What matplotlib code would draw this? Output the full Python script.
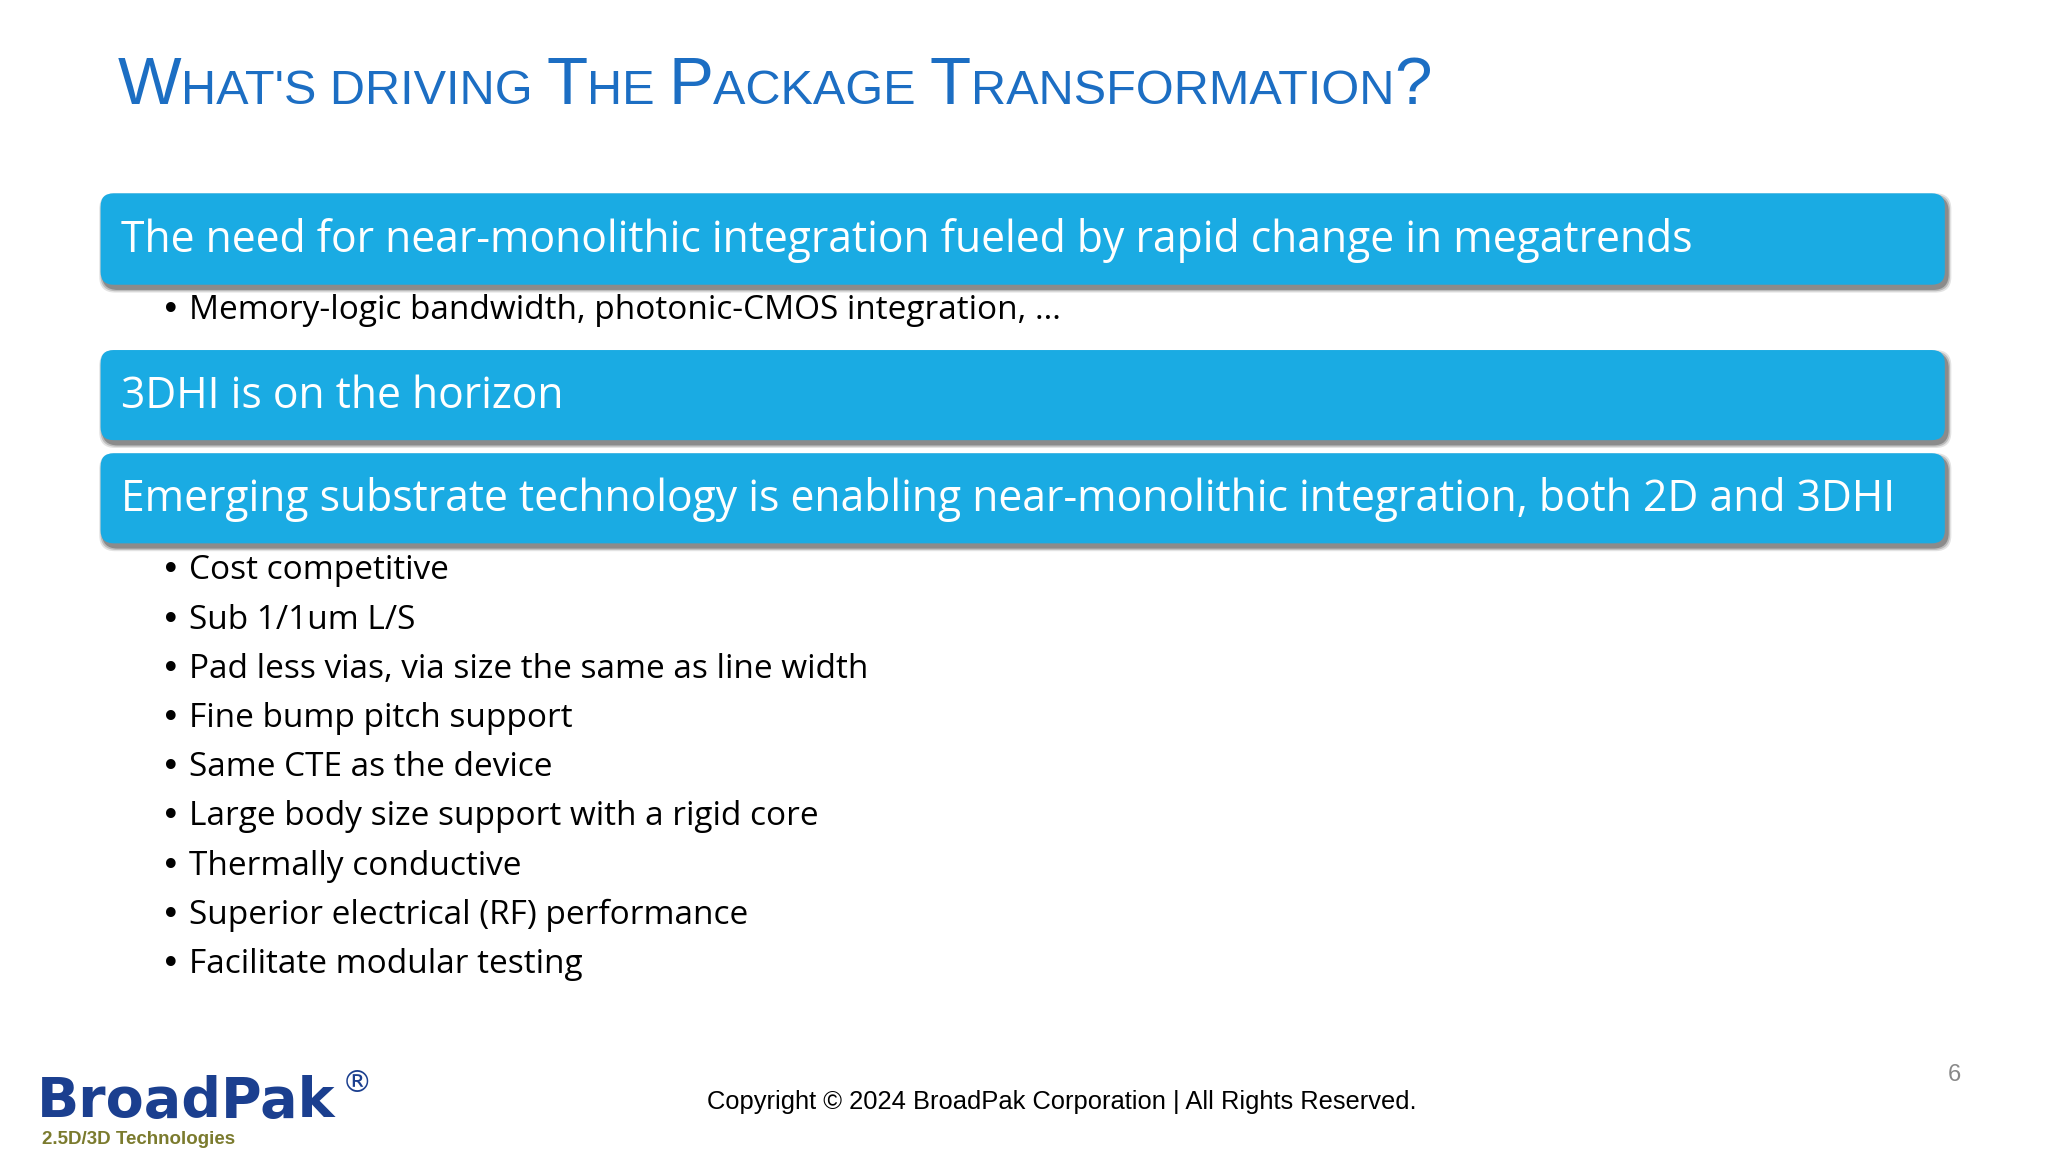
import matplotlib
matplotlib.use("Agg")
import matplotlib.pyplot as plt
from matplotlib.patches import FancyBboxPatch

title_parts = [("W", 1), ("HAT'S DRIVING ", 0), ("T", 1), ("HE ", 0), ("P", 1), ("ACKAGE ", 0), ("T", 1), ("RANSFORMATION", 0), ("?", 1)]
headers = ["The need for near-monolithic integration fueled by rapid change in megatrends",
           "3DHI is on the horizon",
           "Emerging substrate technology is enabling near-monolithic integration, both 2D and 3DHI"]
header_y = [(148, 218), (268, 337), (347, 416)]
bullets1 = ["Memory-logic bandwidth, photonic-CMOS integration, \u2026"]
bullets2 = ["Cost competitive", "Sub 1/1um L/S", "Pad less vias, via size the same as line width",
            "Fine bump pitch support", "Same CTE as the device", "Large body size support with a rigid core",
            "Thermally conductive", "Superior electrical (RF) performance", "Facilitate modular testing"]

W, H = 1568, 882
fig = plt.figure(figsize=(20.48, 11.52), dpi=100)
ax = fig.add_axes([0, 0, 1, 1])
ax.set_xlim(0, W); ax.set_ylim(H, 0); ax.axis("off")

fig.canvas.draw()
r = fig.canvas.get_renderer()
x = 90
for s, big in title_parts:
    t = ax.text(x, 80, s, fontsize=48.5 if big else 35, color="#1C6EC3", family="Liberation Sans", va="baseline")
    bb = t.get_window_extent(r)
    x += bb.width * W / fig.bbox.width

blue = "#1AABE3"
for (y0, y1), txt in zip(header_y, headers):
    for d, a in [(6, 0.15), (4, 0.25), (2, 0.4)]:
        ax.add_patch(FancyBboxPatch((77 - d / 2 + 2, y0 - d / 2 + 3), 1412 + d, y1 - y0 + d,
                                    boxstyle="round,pad=0,rounding_size=12", fc="#444444", ec="none", alpha=a, zorder=1))
    ax.add_patch(FancyBboxPatch((77, y0), 1412, y1 - y0, boxstyle="round,pad=0,rounding_size=10",
                                fc=blue, ec="none", zorder=2))
    ax.text(93, (y0 + y1) / 2 + 1, txt, fontsize=30.7, color="white", family="Open Sans", va="center", zorder=3)

def bullets(items, y, step=37.7):
    for i, b in enumerate(items):
        yy = y + i * step
        ax.text(123, yy, "\u2022", fontsize=24, color="black", family="DejaVu Sans", va="center")
        ax.text(145, yy, b, fontsize=24, color="black", family="Open Sans", va="center")

bullets(bullets1, 238)
bullets(bullets2, 437)

ax.text(28, 855, "BroadPak", fontsize=40, fontweight="bold", color="#1B3F8F", family="DejaVu Sans", va="baseline")
ax.text(262, 836, "\u00ae", fontsize=22, color="#1B3F8F", family="DejaVu Sans", va="baseline")
ax.text(32, 876, "2.5D/3D Technologies", fontsize=13.5, fontweight="bold", color="#7B7B2E", family="Liberation Sans", va="baseline")
ax.text(813, 844, "Copyright \u00a9 2024 BroadPak Corporation | All Rights Reserved.", fontsize=18.4,
        family="Liberation Sans", ha="center", va="center", color="black")
ax.text(1496, 823, "6", fontsize=17, color="#888888", family="Liberation Sans", ha="center", va="center")

fig.savefig("out.png", dpi=100)
